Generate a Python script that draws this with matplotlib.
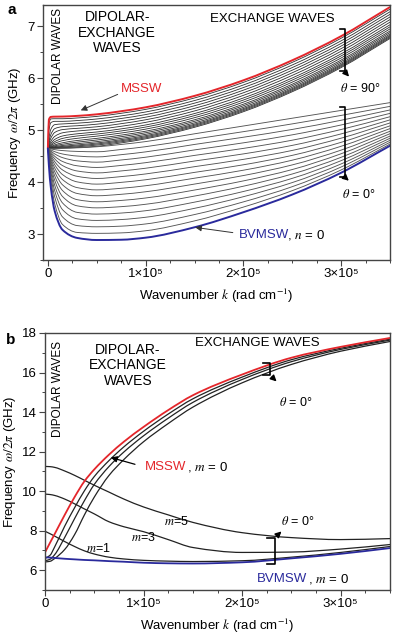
import numpy as np
import matplotlib.pyplot as plt
from matplotlib.path import Path
from matplotlib.patches import PathPatch

plt.rcParams['font.family'] = ['Liberation Sans', 'DejaVu Sans']
plt.rcParams['mathtext.fontset'] = 'stix'

# ---------------- panel a data (k in units of 1e5 rad/cm, f in GHz) ----------------
k_a = [0, 0.01, 0.03, 0.07, 0.15, 0.3, 0.5, 0.75, 1.0, 1.5, 2.0, 2.5, 3.0, 3.5]

mssw_a = [4.65, 5.20, 5.255, 5.26, 5.262, 5.275, 5.305, 5.365, 5.44, 5.66, 5.96, 6.345, 6.81, 7.37]
bvmsw_a = [4.65, 4.33, 3.90, 3.44, 3.08, 2.925, 2.885, 2.89, 2.93, 3.13, 3.42, 3.76, 4.18, 4.70]

# curves of the upper bundle (theta -> 90 deg), top to bottom
upper_a = [
    [4.65, 5.11, 5.216, 5.22, 5.22, 5.235, 5.265, 5.325, 5.40, 5.62, 5.92, 6.305, 6.77, 7.33],
    [4.65, 4.979, 5.144, 5.17, 5.17, 5.185, 5.215, 5.275, 5.35, 5.57, 5.87, 6.255, 6.72, 7.28],
    [4.65, 4.835, 5.015, 5.106, 5.12, 5.135, 5.165, 5.225, 5.30, 5.52, 5.82, 6.205, 6.67, 7.23],
    [4.65, 4.769, 4.915, 5.029, 5.067, 5.085, 5.115, 5.175, 5.25, 5.47, 5.77, 6.155, 6.62, 7.18],
    [4.65, 4.732, 4.845, 4.956, 5.011, 5.035, 5.065, 5.125, 5.20, 5.42, 5.72, 6.105, 6.57, 7.13],
    [4.65, 4.703, 4.784, 4.88, 4.949, 4.984, 5.015, 5.075, 5.15, 5.37, 5.67, 6.055, 6.52, 7.08],
    [4.65, 4.686, 4.744, 4.821, 4.888, 4.93, 4.965, 5.025, 5.10, 5.32, 5.62, 6.005, 6.47, 7.03],
    [4.65, 4.676, 4.718, 4.779, 4.841, 4.888, 4.925, 4.985, 5.06, 5.28, 5.58, 5.965, 6.43, 6.99],
    [4.65, 4.668, 4.699, 4.746, 4.798, 4.843, 4.885, 4.945, 5.02, 5.24, 5.54, 5.925, 6.39, 6.95],
    [4.65, 4.662, 4.683, 4.716, 4.757, 4.801, 4.842, 4.905, 4.98, 5.20, 5.50, 5.885, 6.35, 6.91],
    [4.65, 4.658, 4.673, 4.697, 4.729, 4.769, 4.81, 4.874, 4.95, 5.17, 5.47, 5.855, 6.32, 6.88],
    [4.65, 4.655, 4.665, 4.682, 4.705, 4.739, 4.779, 4.843, 4.92, 5.14, 5.44, 5.825, 6.29, 6.85],
    [4.65, 4.654, 4.66, 4.671, 4.687, 4.715, 4.753, 4.817, 4.894, 5.115, 5.415, 5.80, 6.265, 6.825],
    [4.65, 4.652, 4.656, 4.663, 4.674, 4.697, 4.733, 4.796, 4.873, 5.095, 5.395, 5.78, 6.245, 6.805],
    [4.65, 4.651, 4.653, 4.657, 4.662, 4.68, 4.713, 4.776, 4.853, 5.075, 5.375, 5.76, 6.225, 6.785],
    [4.65, 4.65, 4.65, 4.651, 4.654, 4.665, 4.69, 4.755, 4.833, 5.055, 5.355, 5.74, 6.205, 6.765],
]

# curves of the lower fan (theta -> 0 deg), bottom to top
lower_a = [
    [4.65, 4.421, 4.054, 3.583, 3.183, 3.031, 3.013, 3.022, 3.063, 3.253, 3.519, 3.835, 4.234, 4.732],
    [4.65, 4.455, 4.138, 3.715, 3.329, 3.163, 3.139, 3.152, 3.194, 3.375, 3.619, 3.912, 4.291, 4.767],
    [4.65, 4.485, 4.21, 3.832, 3.469, 3.293, 3.262, 3.279, 3.323, 3.495, 3.719, 3.991, 4.35, 4.804],
    [4.65, 4.509, 4.273, 3.937, 3.598, 3.417, 3.384, 3.404, 3.449, 3.614, 3.819, 4.072, 4.413, 4.844],
    [4.65, 4.531, 4.328, 4.033, 3.722, 3.543, 3.504, 3.527, 3.573, 3.731, 3.921, 4.156, 4.478, 4.886],
    [4.65, 4.549, 4.376, 4.12, 3.837, 3.662, 3.621, 3.647, 3.694, 3.847, 4.023, 4.242, 4.546, 4.932],
    [4.65, 4.566, 4.419, 4.199, 3.947, 3.781, 3.737, 3.765, 3.814, 3.962, 4.126, 4.331, 4.616, 4.979],
    [4.65, 4.58, 4.457, 4.269, 4.048, 3.894, 3.85, 3.881, 3.93, 4.075, 4.229, 4.422, 4.69, 5.03],
    [4.65, 4.592, 4.491, 4.334, 4.144, 4.004, 3.961, 3.995, 4.045, 4.187, 4.333, 4.515, 4.766, 5.083],
    [4.65, 4.604, 4.522, 4.393, 4.234, 4.111, 4.07, 4.106, 4.157, 4.297, 4.438, 4.61, 4.846, 5.139],
    [4.65, 4.614, 4.55, 4.448, 4.318, 4.214, 4.177, 4.215, 4.267, 4.406, 4.543, 4.707, 4.928, 5.198],
    [4.65, 4.623, 4.575, 4.497, 4.397, 4.314, 4.282, 4.321, 4.374, 4.514, 4.649, 4.807, 5.013, 5.259],
    [4.65, 4.631, 4.598, 4.543, 4.471, 4.409, 4.384, 4.426, 4.479, 4.62, 4.756, 4.91, 5.10, 5.323],
    [4.65, 4.639, 4.619, 4.586, 4.541, 4.502, 4.485, 4.528, 4.582, 4.725, 4.864, 5.014, 5.191, 5.389],
    [4.65, 4.646, 4.638, 4.625, 4.607, 4.591, 4.584, 4.628, 4.682, 4.828, 4.971, 5.121, 5.284, 5.458],
    [4.65, 4.65, 4.65, 4.65, 4.652, 4.66, 4.68, 4.725, 4.78, 4.93, 5.08, 5.23, 5.38, 5.53],
]

# ---------------- panel b data ----------------
k_b = [0, 0.05, 0.1, 0.2, 0.3, 0.4, 0.5, 0.65, 0.8, 1.0, 1.25, 1.5, 2.0, 2.5, 3.0, 3.5]

mssw_b = [6.9, 7.38, 7.85, 8.8, 9.7, 10.5, 11.1, 11.85, 12.5, 13.25, 14.1, 14.85, 15.9, 16.75, 17.3, 17.75]
theta_b = [
    [6.6, 6.75, 7.2, 8.23, 9.16, 10.02, 10.74, 11.55, 12.24, 13.03, 13.9, 14.67, 15.77, 16.65, 17.23, 17.69],
    [6.48, 6.55, 6.8, 7.66, 8.61, 9.52, 10.34, 11.25, 11.98, 12.8, 13.69, 14.49, 15.65, 16.55, 17.17, 17.64],
    [6.42, 6.45, 6.6, 7.05, 7.8, 8.8, 9.7, 10.8, 11.6, 12.5, 13.42, 14.25, 15.48, 16.41, 17.08, 17.57],
]
m5_b = [11.25, 11.24, 11.2, 11.02, 10.8, 10.55, 10.3, 9.95, 9.6, 9.2, 8.8, 8.42, 7.9, 7.65, 7.55, 7.6]
m3_b = [9.85, 9.83, 9.78, 9.6, 9.36, 9.1, 8.85, 8.45, 8.2, 7.95, 7.55, 7.15, 6.9, 6.92, 7.07, 7.3]
m1_b = [7.97, 7.85, 7.72, 7.45, 7.2, 6.98, 6.82, 6.66, 6.57, 6.5, 6.46, 6.44, 6.48, 6.66, 6.9, 7.2]
bvmsw_b = [6.65, 6.64, 6.62, 6.58, 6.55, 6.52, 6.5, 6.46, 6.43, 6.38, 6.35, 6.34, 6.4, 6.6, 6.83, 7.12]

xticks = [0, 1e5, 2e5, 3e5]
xticklabels = ['0', '1×10⁵', '2×10⁵', '3×10⁵']

RED = '#e4262b'
BLUE = '#2a2a9c'


def smooth_line(ax, k, f, color, lw):
    # draw a smooth (monotone cubic) line through the read points
    x = np.asarray(k, float) * 1e5
    y = np.asarray(f, float)
    h = np.diff(x)
    d = np.diff(y) / h
    m = np.zeros_like(y)
    m[0], m[-1] = d[0], d[-1]
    for i in range(1, len(x) - 1):
        if d[i - 1] * d[i] > 0:
            w1 = 2 * h[i] + h[i - 1]
            w2 = h[i] + 2 * h[i - 1]
            m[i] = (w1 + w2) / (w1 / d[i - 1] + w2 / d[i])
    verts = [(x[0], y[0])]
    codes = [Path.MOVETO]
    for i in range(len(h)):
        verts += [(x[i] + h[i] / 3, y[i] + m[i] * h[i] / 3),
                  (x[i + 1] - h[i] / 3, y[i + 1] - m[i + 1] * h[i] / 3),
                  (x[i + 1], y[i + 1])]
        codes += [Path.CURVE4] * 3
    ax.add_patch(PathPatch(Path(verts, codes), fill=False, edgecolor=color, lw=lw,
                           capstyle='round', joinstyle='round'))


fig = plt.figure(figsize=(3.95, 6.37), dpi=100)
W, H = 395.0, 637.0
ax1 = fig.add_axes([43 / W, 1 - 260 / H, 347 / W, 255 / H])
ax2 = fig.add_axes([45 / W, 1 - 590 / H, 345 / W, 257 / H])


def style(ax):
    for s in ax.spines.values():
        s.set_color('#444444')
        s.set_linewidth(1.0)
    ax.tick_params(which='major', direction='out', length=4, width=0.8,
                   labelsize=9.5, color='#444444', pad=2)
    ax.tick_params(which='minor', direction='out', length=2.5, width=0.7, color='#444444')
    ax.set_xticks(xticks)
    ax.set_xticklabels(xticklabels)
    ax.set_xticks(np.arange(0, 3.6e5, 0.25e5), minor=True)
    ax.set_ylabel(r'Frequency $\omega/2\pi$ (GHz)', fontsize=9.5, labelpad=3)
    ax.set_xlabel(r'Wavenumber $k$ (rad cm$^{-1}$)', fontsize=9.5, labelpad=5)


# ---------------- panel a ----------------
for row in upper_a:
    smooth_line(ax1, k_a, row, '#2e2e2e', 0.6)
for row in lower_a:
    smooth_line(ax1, k_a, row, '#555555', 0.65)
smooth_line(ax1, k_a, mssw_a, RED, 1.4)
smooth_line(ax1, k_a, bvmsw_a, BLUE, 1.4)

ax1.set_xlim(-0.05e5, 3.477e5)
ax1.set_ylim(2.5, 7.41)
ax1.set_yticks([3, 4, 5, 6, 7])
ax1.set_yticks(np.arange(2.5, 7.5, 0.5), minor=True)
style(ax1)

ax1.text(0.10e5, 6.42, 'DIPOLAR WAVES', rotation=90, ha='center', va='center', fontsize=8.5)
ax1.text(0.71e5, 6.88, 'DIPOLAR-\nEXCHANGE\nWAVES', ha='center', va='center', fontsize=10, linespacing=1.15)
ax1.text(2.30e5, 7.15, 'EXCHANGE WAVES', ha='center', va='center', fontsize=9.5)
ax1.text(0.96e5, 5.79, 'MSSW', color=RED, ha='center', va='center', fontsize=9.5)
ax1.annotate('', xy=(0.31e5, 5.36), xytext=(0.74e5, 5.71),
             arrowprops=dict(arrowstyle='-|>', color='#333333', lw=0.7, mutation_scale=9))

# brackets
ax1.plot([2.99e5, 3.035e5, 3.035e5, 2.99e5], [6.94, 6.94, 6.13, 6.13], color='k', lw=1.2)
ax1.annotate('', xy=(3.10e5, 5.99), xytext=(3.035e5, 6.13),
             arrowprops=dict(arrowstyle='-|>', color='k', lw=1.0, mutation_scale=9))
ax1.text(3.20e5, 5.81, r'$\theta$ = 90°', ha='center', va='center', fontsize=9)

ax1.plot([2.99e5, 3.035e5, 3.035e5, 2.99e5], [5.45, 5.45, 4.10, 4.10], color='k', lw=1.2)
ax1.annotate('', xy=(3.10e5, 3.99), xytext=(3.035e5, 4.10),
             arrowprops=dict(arrowstyle='-|>', color='k', lw=1.0, mutation_scale=9))
ax1.text(3.18e5, 3.76, r'$\theta$ = 0°', ha='center', va='center', fontsize=9)

ax1.text(1.955e5, 2.99, 'BVMSW', color=BLUE, ha='left', va='center', fontsize=9.5)
ax1.text(2.45e5, 2.99, r', $n$ = 0', ha='left', va='center', fontsize=9.5)
ax1.annotate('', xy=(1.48e5, 3.135), xytext=(1.92e5, 3.02),
             arrowprops=dict(arrowstyle='-|>', color='#333333', lw=0.7, mutation_scale=9))

# ---------------- panel b ----------------
for row in [m5_b, m3_b, m1_b] + theta_b:
    smooth_line(ax2, k_b, row, '#222222', 0.9)
smooth_line(ax2, k_b, mssw_b, RED, 1.3)
smooth_line(ax2, k_b, bvmsw_b, BLUE, 1.3)

ax2.set_xlim(0, 3.47e5)
ax2.set_ylim(5, 18)
ax2.set_yticks([6, 8, 10, 12, 14, 16, 18])
ax2.set_yticks(np.arange(5, 18.5, 1), minor=True)
style(ax2)

ax2.text(0.134e5, 15.16, 'DIPOLAR WAVES', rotation=90, ha='center', va='center', fontsize=8.5)
ax2.text(0.84e5, 16.36, 'DIPOLAR-\nEXCHANGE\nWAVES', ha='center', va='center', fontsize=10, linespacing=1.15)
ax2.text(2.15e5, 17.48, 'EXCHANGE WAVES', ha='center', va='center', fontsize=9.5)

ax2.plot([2.21e5, 2.283e5, 2.283e5, 2.21e5], [16.5, 16.5, 15.87, 15.87], color='k', lw=1.2)
ax2.annotate('', xy=(2.37e5, 15.45), xytext=(2.283e5, 15.87),
             arrowprops=dict(arrowstyle='-|>', color='k', lw=1.0, mutation_scale=9))
ax2.text(2.54e5, 14.46, r'$\theta$ = 0°', ha='center', va='center', fontsize=9)

ax2.text(1.01e5, 11.22, 'MSSW', color=RED, ha='left', va='center', fontsize=9.5)
ax2.text(1.44e5, 11.22, r', $m$ = 0', ha='left', va='center', fontsize=9.5)
ax2.annotate('', xy=(0.64e5, 11.74), xytext=(0.94e5, 11.32),
             arrowprops=dict(arrowstyle='-|>', color='k', lw=0.9, mutation_scale=9))

ax2.text(1.33e5, 8.45, r'$m$=5', ha='center', va='center', fontsize=9)
ax2.text(1.00e5, 7.68, r'$m$=3', ha='center', va='center', fontsize=9)
ax2.text(0.54e5, 7.12, r'$m$=1', ha='center', va='center', fontsize=9)

ax2.plot([2.25e5, 2.33e5, 2.33e5, 2.25e5], [7.64, 7.64, 6.34, 6.34], color='k', lw=1.2)
ax2.annotate('', xy=(2.42e5, 8.06), xytext=(2.33e5, 7.64),
             arrowprops=dict(arrowstyle='-|>', color='k', lw=1.0, mutation_scale=9))
ax2.text(2.56e5, 8.45, r'$\theta$ = 0°', ha='center', va='center', fontsize=9)

ax2.text(2.15e5, 5.58, 'BVMSW', color=BLUE, ha='left', va='center', fontsize=9.5)
ax2.text(2.67e5, 5.58, r', $m$ = 0', ha='left', va='center', fontsize=9.5)

fig.text(8 / W, 1 - 10 / H, 'a', fontsize=11, fontweight='bold', ha='left', va='center')
fig.text(6 / W, 1 - 340 / H, 'b', fontsize=11, fontweight='bold', ha='left', va='center')

fig.savefig('out.png', dpi=100)
